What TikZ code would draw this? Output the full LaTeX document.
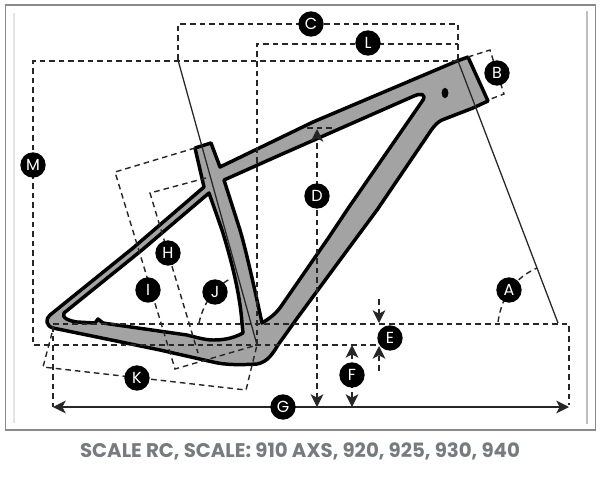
\documentclass[tikz,border=0pt]{standalone}
\usepackage{fontspec}
\setmainfont{Poppins}
\usetikzlibrary{arrows.meta}
\definecolor{framegray}{HTML}{A3A3A3}
\definecolor{edgegray}{HTML}{8A8A8A}
\definecolor{captiongray}{HTML}{767B7F}
\tikzset{
  frameshape/.style={draw=black,line width=2.6pt,line join=round},
  dim/.style={draw=black!85,line width=1.05pt,dash pattern=on 4.2pt off 3pt},
  thinline/.style={draw=black!85,line width=.95pt},
  tip/.style={-{Stealth[length=9.5pt,width=9.5pt,inset=2.5pt]}},
  bothtip/.style={{Stealth[length=9.5pt,width=9.5pt,inset=2.5pt]}-{Stealth[length=9.5pt,width=9.5pt,inset=2.5pt]}},
  badge/.style={circle,fill=black,text=white,minimum size=19pt,inner sep=0pt,font=\fontsize{12}{12}\selectfont},
}
\begin{document}
\begin{tikzpicture}[x=.75pt,y=-.75pt]
\useasboundingbox (0,0) rectangle (600,479);
\fill[white] (0,0) rectangle (600,479);
\draw[edgegray,line width=.9pt] (5.7,5) rectangle (595.3,430);
\draw[black!10,line width=1.4pt] (14,13) -- (14,423);
\draw[black!25,line width=1.4pt] (587,11) -- (587,424);

% corner coordinates
\coordinate (hA) at (458,61);
\coordinate (sT) at (178,60);
\coordinate (sB) at (257,345);
\coordinate (cTL) at (178,24);
\coordinate (cTR) at (458,24);
\coordinate (lB) at (257,345);
\coordinate (lT) at (257,44);
\coordinate (lR) at (458,44);
\coordinate (mTL) at (33,61);
\coordinate (mBL) at (33,345);
\coordinate (mBR) at (378,345);
\coordinate (hL) at (53,324);
\coordinate (hR) at (569,324);
\coordinate (hRd) at (569,405);
\coordinate (gL) at (53,407);
\coordinate (gR) at (569,407);
\coordinate (hLt) at (53,326);
\coordinate (dT) at (317,129);
\coordinate (dB) at (317,407);
\coordinate (dL) at (307,128);
\coordinate (dR) at (333,128);
\coordinate (fT) at (352,345);
\coordinate (fB) at (352,407);
\coordinate (eT0) at (379,299);
\coordinate (eT1) at (379,323);
\coordinate (eB0) at (379,371);
\coordinate (eB1) at (379,346);
\coordinate (aS) at (498,322);
\coordinate (aE) at (537,268);
\coordinate (headEnd) at (558,323);
\coordinate (headTop) at (468,57);
\coordinate (bA) at (490,50);
\coordinate (bB) at (504,94);
\coordinate (headBot) at (488,100);
\coordinate (seatTop) at (195,148);
\coordinate (iC) at (115,172);
\coordinate (iD) at (175,369);
\coordinate (hS) at (206,178);
\coordinate (hC) at (150,193);
\coordinate (hD) at (198,353);
\coordinate (jS) at (199,323);
\coordinate (jE) at (230,279);
\coordinate (kA) at (52,333);
\coordinate (kB) at (43,367);
\coordinate (kC) at (246,390);

% frame
\path[frameshape,fill=framegray]
  (468,57) -- (488,101) -- (473,108) -- (442,120)
  .. controls (438,122) and (436,124) .. (432,129)
  -- (377,210) -- (340,260) -- (298,317) -- (278,345)
  .. controls (273,353) and (268,362) .. (257,364)
  .. controls (240,365) and (225,365) .. (213,362)
  -- (160,350) -- (53,328)
  .. controls (46,326) and (45,319) .. (50,315)
  -- (133,248) -- (204,187) -- (195,148) -- (211,143) -- (220,167)
  -- (313,122) -- (457,61) -- cycle;
% front triangle
\path[frameshape,fill=white]
  (423,100) .. controls (426,94) and (421,93) .. (414,96)
  -- (280,155) -- (224,180) -- (240,230)
  .. controls (246,250) and (256,295) .. (262,323)
  .. controls (270,318) and (276,314) .. (282,305)
  -- (327,240) -- (347,210) -- cycle;
% rear triangle
\path[frameshape,fill=white]
  (209,193) -- (222,230)
  .. controls (232,262) and (240,295) .. (242,323)
  -- (243,333)
  .. controls (232,339) and (222,340) .. (213,340)
  .. controls (205,340) and (195,337) .. (187,335)
  -- (103,323) -- (98,319) -- (95,323) -- (77,322)
  .. controls (70,321) and (61,318) .. (64,313)
  -- (142,250) -- cycle;
\fill[black] (445,93) ellipse (3.4 and 5.2);

% thin lines
\draw[thinline] (sT) -- (sB);
\draw[thinline] (hA) -- (headEnd);

% dashed dimensions
\draw[dim] (sT) -- (cTL) -- (cTR) -- (hA);
\draw[dim] (lB) -- (lT) -- (lR);
\draw[dim] (hA) -- (mTL) -- (mBL) -- (mBR);
\draw[dim] (hL) -- (hR) -- (hRd);
\draw[dim] (hLt) -- (gL);
\draw[dim] (headTop) -- (bA) -- (bB) -- (headBot);
\draw[dim] (seatTop) -- (iC) -- (iD) -- (sB);
\draw[dim] (hS) -- (hC) -- (hD);
\draw[dim] (kA) -- (kB) -- (kC) -- (sB);
\draw[dim] (aS) .. controls (502,295) and (515,278) .. (aE);
\draw[dim] (jS) .. controls (203,305) and (213,288) .. (jE);
\draw[dim] (dL) -- (dR);
\draw[dim,bothtip] (dB) -- (dT);
\draw[dim,bothtip] (fT) -- (fB);
\draw[dim,tip] (eT0) -- (eT1);
\draw[dim,tip] (eB0) -- (eB1);
\draw[black!85,line width=1.3pt,bothtip] (gL) -- (gR);

% badges
\node[badge] (nA) at (509,290) {A};
\node[badge] (nB) at (497,73) {B};
\node[badge] (nC) at (311,24) {C};
\node[badge] (nD) at (317,196) {D};
\node[badge] (nE) at (390,338) {E};
\node[badge] (nF) at (352,375) {F};
\node[badge] (nG) at (283,407) {G};
\node[badge] (nH) at (168,253) {H};
\node[badge] (nI) at (148,290) {I};
\node[badge] (nJ) at (215,292) {J};
\node[badge] (nK) at (137,378) {K};
\node[badge] (nL) at (368,43) {L};
\node[badge] (nM) at (33,165) {M};

\node[text=captiongray,inner sep=0pt,font=\fontsize{14.8}{15}\selectfont\bfseries] (cap) at (300,451) {SCALE RC, SCALE: 910 AXS, 920, 925, 930, 940};
\end{tikzpicture}
\end{document}
